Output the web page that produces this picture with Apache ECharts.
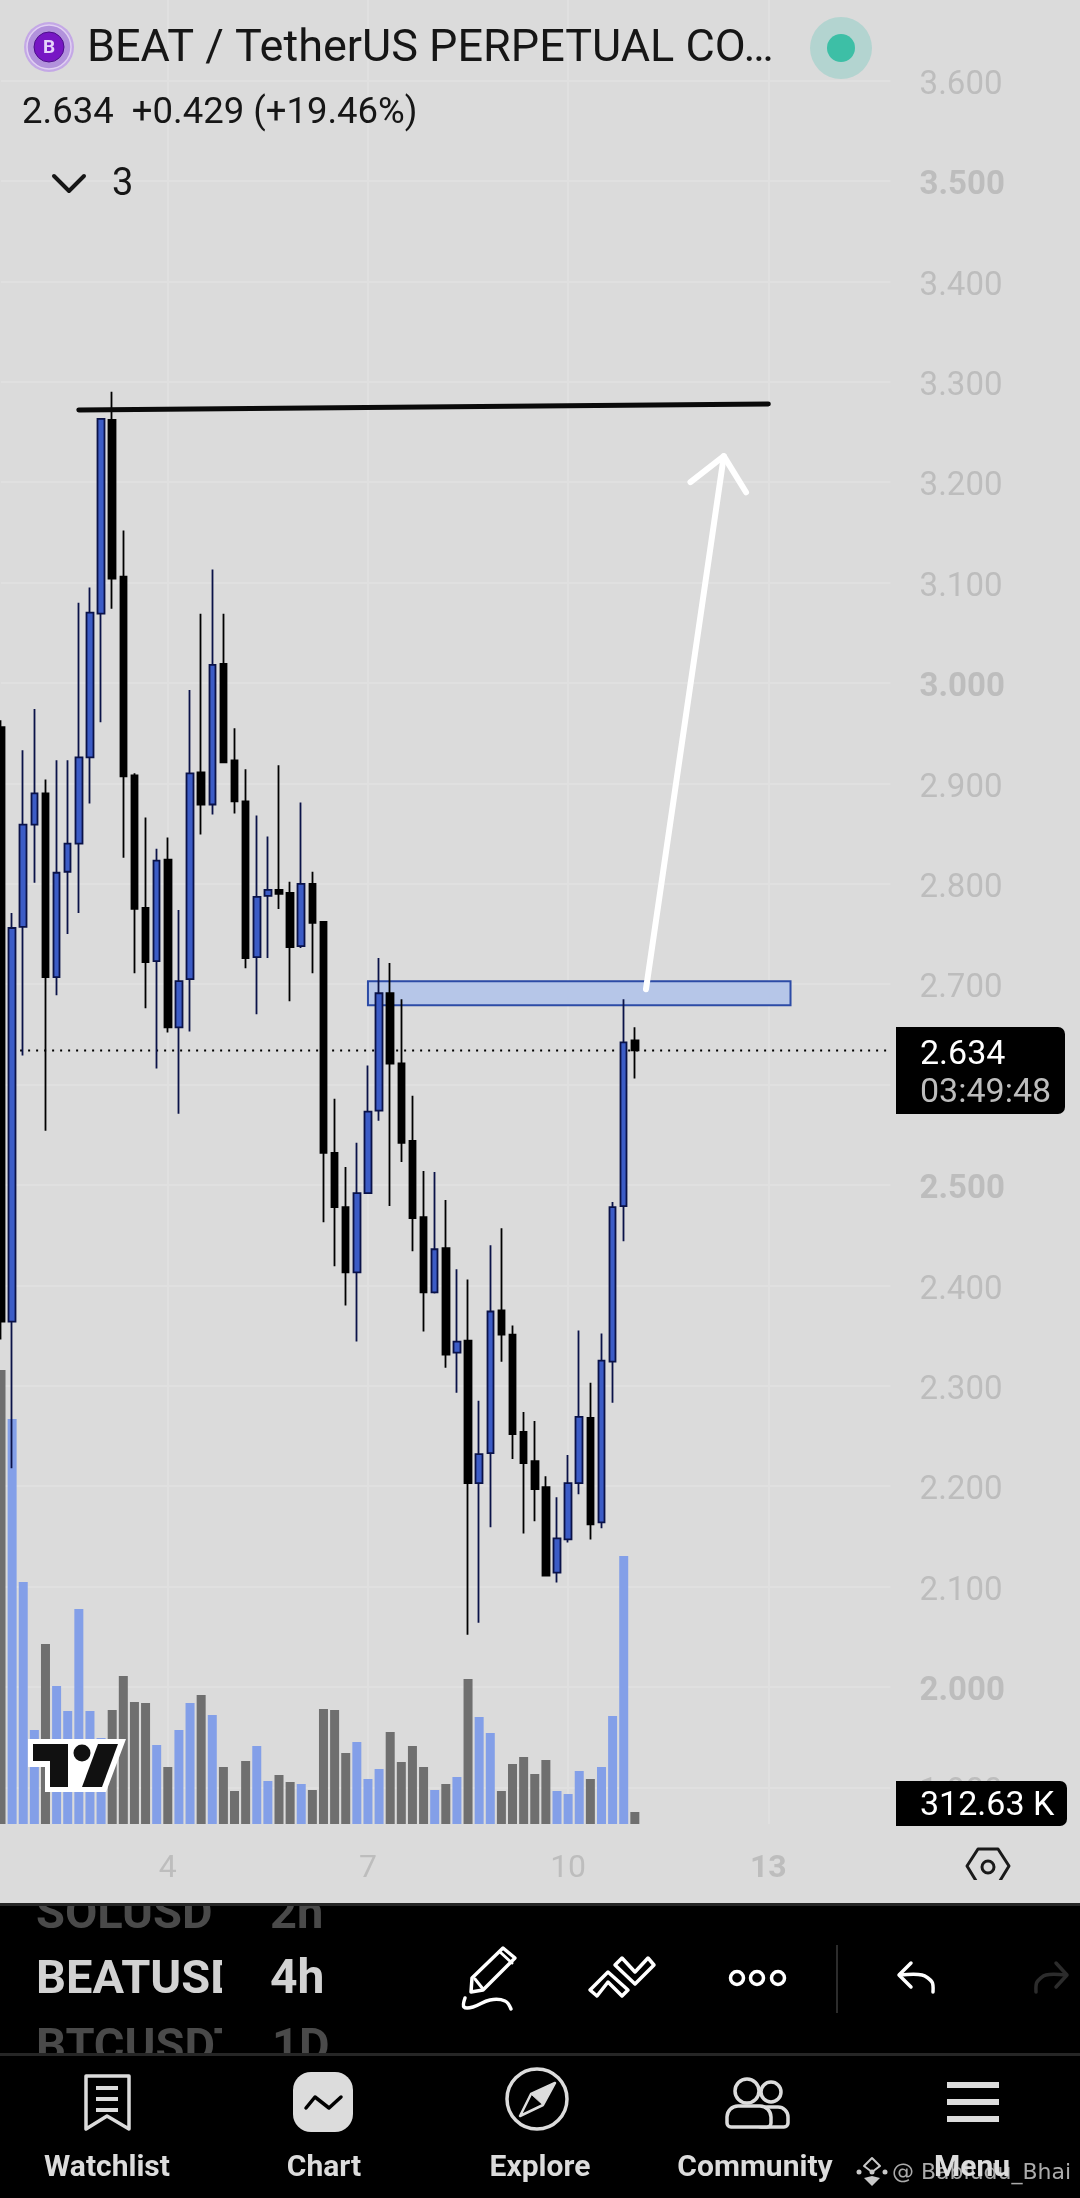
<!DOCTYPE html>
<html>
<head>
<meta charset="utf-8">
<style>html,body{margin:0;padding:0;background:#dbdbdb}#c{width:1080px;height:2198px}</style>
<script src="https://cdn.jsdelivr.net/npm/echarts@6/dist/echarts.min.js"></script>
</head>
<body>
<div id="c"></div>
<script>
const opens  = [2.956,2.364,2.757,2.859,2.890,2.707,2.812,2.840,2.926,3.069,3.262,3.106,2.908,2.776,2.723,2.824,2.657,2.705,2.911,2.879,3.019,2.923,2.882,2.727,2.788,2.794,2.791,2.738,2.800,2.762,2.532,2.478,2.413,2.492,2.574,2.691,2.621,2.544,2.468,2.393,2.437,2.333,2.345,2.203,2.233,2.375,2.351,2.254,2.225,2.199,2.114,2.147,2.203,2.268,2.164,2.324,2.479,2.644];
const closes = [2.364,2.756,2.859,2.890,2.707,2.811,2.840,2.926,3.070,3.263,3.104,2.907,2.775,2.722,2.823,2.657,2.703,2.910,2.879,3.018,2.921,2.882,2.726,2.787,2.794,2.790,2.737,2.800,2.761,2.532,2.478,2.413,2.492,2.573,2.691,2.621,2.542,2.467,2.393,2.436,2.331,2.344,2.203,2.232,2.374,2.351,2.252,2.223,2.197,2.111,2.148,2.203,2.269,2.162,2.325,2.478,2.642,2.634];
const lows   = [2.346,2.218,2.629,2.801,2.554,2.689,2.750,2.771,2.880,2.961,3.074,2.826,2.711,2.676,2.616,2.652,2.571,2.653,2.849,2.869,2.920,2.870,2.716,2.670,2.726,2.775,2.683,2.736,2.711,2.463,2.419,2.380,2.344,2.491,2.564,2.479,2.523,2.434,2.354,2.392,2.318,2.293,2.052,2.064,2.159,2.324,2.227,2.153,2.165,2.110,2.104,2.144,2.192,2.147,2.158,2.283,2.444,2.606];
const highs  = [2.963,2.771,2.933,2.974,2.904,2.923,2.923,3.080,3.095,3.264,3.290,3.152,2.910,2.866,2.835,2.846,2.774,2.993,3.069,3.113,3.069,2.955,2.914,2.868,2.847,2.918,2.802,2.881,2.812,2.763,2.586,2.518,2.542,2.619,2.726,2.721,2.685,2.589,2.514,2.513,2.485,2.416,2.406,2.285,2.440,2.457,2.360,2.274,2.265,2.210,2.189,2.231,2.355,2.303,2.352,2.483,2.685,2.657];
const volumesK = [11822,10546,6302,2448,4687,3594,2943,5599,2943,2239,2969,3854,3177,3151,2057,1484,2448,3151,3359,2838,1484,859,1641,2031,1120,1276,1094,1042,885,2995,2969,1849,2135,1172,1432,2396,1614,2031,1484,885,1042,1224,3776,2786,2370,859,1562,1745,1302,1667,859,781,1380,1172,1484,2812,6979,312.63];
const dayTicks = {15:'4',33:'7',51:'10',69:'13'};
const barSlots = 81;
const lastPrice = 2.634;
const resistanceLine = [[7,3.272],[69,3.278]];
const zoneBars = [33,71];
const zonePrices = [2.703,2.679];
const arrowShaft = [[58,2.695],[65,3.226]];
const arrowHead = [[62,3.200],[65,3.226],[67,3.190]];

const categories = [];
for (let i = 0; i < barSlots; i++) categories.push(dayTicks[i] || '');
const candleData = opens.map((o,i)=>[o,closes[i],lows[i],highs[i]]);
const UP='#3c5cc6', UPB='#0a1248', DOWN='#000', VUP='#839fe8', VDOWN='#6f6f6f';
const volData = volumesK.map((v,i)=>({value:v,itemStyle:{color:closes[i]>=opens[i]?VUP:VDOWN}}));
const isTick = (i,v)=>v!=='';

function overlay(z, build){
  return {type:'custom',coordinateSystem:'cartesian2d',xAxisIndex:0,yAxisIndex:0,z,silent:true,animation:false,
    data:[[0,2]],clip:false,renderItem:(p,api)=>({type:'group',children:build(api)})};
}
const pts = (api,a)=>a.map(q=>api.coord(q));

const ink='#dcdcdc', BG='#dbdbdb', TXT='Roboto';
const g=[];
const rect=(x,y,w,h,fill,r)=>g.push({type:'rect',z:100,shape:{x,y,width:w,height:h,r:r||0},style:{fill}});
const text=(x,y,t,font,fill,align)=>g.push({type:'text',z:100,style:{x,y,text:t,font,fill,align:align||'left',verticalAlign:'middle'}});
const line=(p,color,w,smooth)=>g.push({type:'polyline',z:100,shape:{points:p,smooth:smooth||0},style:{stroke:color,lineWidth:w,fill:null,lineCap:'round',lineJoin:'round'}});
const poly=(p,color,w,fill)=>g.push({type:'polygon',z:100,shape:{points:p},style:{stroke:color,lineWidth:w,fill:fill||null,lineJoin:'round'}});
const circ=(cx,cy,r,fill,stroke,w)=>g.push({type:'circle',z:100,shape:{cx,cy,r},style:{fill:fill||null,stroke:stroke||null,lineWidth:w||0}});

// header
circ(49,47,25,'#c4a8e6');
circ(49,47,22,'#b292dc','#e0d0f2',1.5);
circ(49,47,15,'#7716c4','#4c0f8a',1);
text(49,48,'B','bold 19px '+TXT,'#e6d4fa','center');
text(87,50,'BEAT / TetherUS PERPETUAL CO…','45px '+TXT,'#161616');
text(22,114,'2.634  +0.429 (+19.46%)','36.5px '+TXT,'#161616');
line([[54,176],[69,191],[84,176]],'#161616',4);
text(112,185,'3','38px '+TXT,'#161616');
circ(841,48,31,'#b3d4d0');
circ(841,48,14,'#3dbfa6');
// price tags
rect(896,1027,169,87,'#000',[0,7,7,0]);
text(920,1055,'2.634','34px '+TXT,'#fff');
text(920,1093,'03:49:48','34px '+TXT,'#bdbdbd');
rect(896,1781,171,45,'#000',[0,7,7,0]);
text(920,1806,'312.63 K','34px '+TXT,'#fff');
// tradingview mark
poly([[28,1739],[126,1739],[106,1792],[45,1792],[45,1767],[28,1767]],null,0,'#fff');
poly([[33,1744],[68,1744],[68,1787],[50,1787],[50,1761],[33,1761]],null,0,'#111');
circ(82,1753,8.5,'#111');
poly([[98,1744],[118,1744],[102,1787],[82,1787]],null,0,'#111');
// settings hexagon
poly([[978,1849],[998,1849],[1009,1866],[998,1884],[978,1884],[967,1866]],'#1a1a1a',3);
circ(988,1867,6,null,'#1a1a1a',3);
// toolbar
rect(0,1906,1080,292,'#000');
text(36,1916,'SOLUSD','bold 47px '+TXT,'#4a4a4a');
text(270,1916,'2h','bold 47px '+TXT,'#4a4a4a');
text(36,1981,'BEATUSD','bold 47px '+TXT,'#d2d2d2');
text(270,1981,'4h','bold 48px '+TXT,'#d2d2d2');
text(36,2049,'BTCUSDT','bold 47px '+TXT,'#4a4a4a');
text(272,2049,'1D','bold 47px '+TXT,'#4a4a4a');
rect(222,1906,40,147,'#000');
rect(0,1880,1080,23,BG);
rect(0,1903,1080,3,'#262626');
rect(0,2053,1080,3,'#262626');
rect(0,2056,1080,142,'#000');
poly([[503,1948],[515,1958],[483,1990],[471,1992],[472,1978]],'#fff',3.5);
line([[500,1952],[512,1963]],'#fff',3);
line([[475,1979],[483,1989]],'#fff',3);
line([[465,1998],[464,2007],[473,2007],[490,2000],[505,2001],[511,2009]],'#fff',3.5,0.4);
poly([[590,1990],[608,1972],[628,1990],[622,1996],[608,1982],[597,1996]],'#fff',3.5);
poly([[615,1965],[622,1958],[635,1972],[648,1958],[654,1965],[635,1984]],'#fff',3.5);
circ(737,1978,6.5,null,'#fff',3.5);circ(757,1978,6.5,null,'#fff',3.5);circ(778,1978,6.5,null,'#fff',3.5);
rect(836,1945,2,68,'#2c2c2c');
line([[911,1963],[899,1975],[911,1987]],'#fff',3.5);
line([[900,1975],[922,1975],[932,1982],[933,1992]],'#fff',3.5,0.3);
line([[1056,1963],[1067,1975],[1056,1987]],'#2c2c2c',3.5);
line([[1066,1975],[1046,1975],[1037,1982],[1036,1992]],'#2c2c2c',3.5,0.3);
// nav icons
poly([[86,2076],[129,2076],[129,2129],[107,2116],[86,2129]],ink,3.5);
rect(96,2086,22,4,ink);rect(96,2097,22,4,ink);rect(96,2108,22,4,ink);
rect(293,2072,60,60,ink,18);
line([[306,2108],[315,2097],[329,2108],[341,2097]],'#000',3.5);
circ(537,2099,30,null,ink,3.5);
poly([[555,2083],[543,2105],[520,2116],[531,2094]],ink,2.5,null);
poly([[555,2083],[531,2094],[543,2105]],ink,1,ink);
circ(747,2091,12,null,ink,3.5);
circ(771,2092,10,null,ink,3.5);
g.push({type:'rect',z:100,shape:{x:757,y:2107,width:31,height:20,r:[10,10,4,4]},style:{fill:'#000',stroke:ink,lineWidth:3.5}});
g.push({type:'rect',z:100,shape:{x:727,y:2106,width:44,height:21,r:[11,11,4,4]},style:{fill:'#000',stroke:ink,lineWidth:3.5}});
rect(947,2082,52,6,ink);rect(947,2099,52,6,ink);rect(947,2116,52,6,ink);
// watermark then nav labels
poly([[872,2158],[880,2166],[872,2172],[864,2166]],'#c9c9c9',2);
poly([[872,2176],[880,2178],[872,2186],[864,2178]],null,0,'#c9c9c9');
circ(859,2172,2.5,'#c9c9c9');circ(885,2172,2.5,'#c9c9c9');circ(872,2172,2.5,'#c9c9c9');
text(892,2173,'@ Babludu_Bhai','22px "DejaVu Sans"','#ababab');
const navFont='bold 30px '+TXT;
text(107,2168,'Watchlist',navFont,ink,'center');
text(324,2168,'Chart',navFont,ink,'center');
text(540,2168,'Explore',navFont,ink,'center');
text(755,2168,'Community',navFont,ink,'center');
text(972,2168,'Menu',navFont,ink,'center');

const plotLeft=1, slot=11.12, plotW=slot*(barSlots-1);
const option={
  animation:false,
  backgroundColor:BG,
  textStyle:{fontFamily:TXT},
  grid:[
    {left:plotLeft,top:1687-1.6*1004,width:plotW,height:1.8*1004,containLabel:false},
    {left:plotLeft,top:0,width:plotW,height:1824,containLabel:false}
  ],
  xAxis:[
    {type:'category',gridIndex:0,data:categories,boundaryGap:false,axisLine:{show:false},axisTick:{show:false},axisLabel:{show:false},splitLine:{show:false}},
    {type:'category',gridIndex:1,data:categories,boundaryGap:false,axisLine:{show:false},axisTick:{show:false},
     axisLabel:{interval:isTick,margin:29,fontSize:32,color:'#bdbdbd',fontFamily:TXT,
       formatter:v=>v==='13'?'{b|13}':v,rich:{b:{fontSize:32,fontWeight:'bold',color:'#bdbdbd',fontFamily:TXT}}},
     splitLine:{show:true,interval:isTick,lineStyle:{color:'#e0e0e0',width:2}}}
  ],
  yAxis:[
    {type:'value',gridIndex:0,position:'right',min:1.8,max:3.6,interval:0.1,scale:true,
     axisLine:{show:false},axisTick:{show:false},
     splitLine:{show:true,showMinLine:false,lineStyle:{color:'#e0e0e0',width:2}},
     axisLabel:{showMinLabel:false,margin:29,fontSize:33,color:'#bdbdbd',fontFamily:TXT,align:'left',verticalAlign:'middle',padding:[10,0,0,0],
       formatter:v=>{const s=v.toFixed(3);return Math.round(v*1000)%500===0?'{b|'+s+'}':s;},
       rich:{b:{fontSize:33,fontWeight:'bold',color:'#bdbdbd',fontFamily:TXT}}}},
    {type:'value',gridIndex:1,min:0,max:47500,show:false,splitLine:{show:false}}
  ],
  series:[
    {type:'bar',xAxisIndex:1,yAxisIndex:1,data:volData,barWidth:9,z:1,silent:true},
    overlay(2,api=>{
      const a=api.coord([zoneBars[0],zonePrices[0]]),b=api.coord([zoneBars[1],zonePrices[1]]);
      const d=pts(api,[[1,lastPrice],[barSlots-1,lastPrice]]);
      return [
        {type:'rect',shape:{x:a[0],y:a[1],width:b[0]-a[0],height:b[1]-a[1]},style:{fill:'#b6c6e8',stroke:'#2c4ba6',lineWidth:2}},
        {type:'line',shape:{x1:d[0][0],y1:d[0][1],x2:d[1][0],y2:d[1][1]},style:{stroke:'#000',lineWidth:2,lineDash:[2,6]}}
      ];
    }),
    {type:'candlestick',xAxisIndex:0,yAxisIndex:0,data:candleData,barWidth:7,z:3,silent:true,clip:false,
     itemStyle:{color:UP,color0:DOWN,borderColor:UPB,borderColor0:DOWN,borderWidth:1.8}},
    overlay(4,api=>[
      {type:'polyline',shape:{points:pts(api,resistanceLine)},style:{stroke:'#0a0a0a',lineWidth:5,fill:null,lineCap:'round'}},
      {type:'polyline',shape:{points:pts(api,arrowShaft)},style:{stroke:'#fff',lineWidth:6,fill:null,lineCap:'round'}},
      {type:'polyline',shape:{points:pts(api,arrowHead)},style:{stroke:'#fff',lineWidth:6,fill:null,lineCap:'round',lineJoin:'round'}}
    ])
  ],
  graphic:{elements:g}
};
const chart=echarts.init(document.getElementById('c'),null,{renderer:'canvas',width:1080,height:2198});
chart.setOption(option);
</script>
</body>
</html>
